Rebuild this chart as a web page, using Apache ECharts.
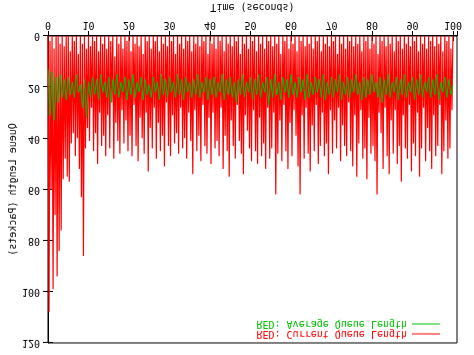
<!DOCTYPE html>
<html>
<head>
<meta charset="utf-8">
<script src="https://cdn.jsdelivr.net/npm/echarts@6/dist/echarts.min.js"></script>
<style>
  html, body { margin: 0; padding: 0; background: #fff; }
  #chart { width: 474px; height: 355px; transform: scaleY(-1); }
</style>
</head>
<body>
<div id="chart"></div>
<script>
// time step of each series (seconds)
const redStep = 0.25
const greenStep = 0.5

const xTicks = [0, 10, 20, 30, 40, 50, 60, 70, 80, 90, 100]
const yTicks = [0, 20, 40, 60, 80, 100, 120]

// RED: Current Queue Length (packets), one value every 0.25 s
const currentQueue = [
  0, 108, 2, 60, 0, 99, 5, 70, 0, 94, 0, 84, 3, 76, 0, 56, 4, 48, 0, 55,
  0, 57, 6, 42, 0, 38, 2, 47, 0, 40, 7, 52, 0, 63, 3, 86, 0, 44, 5, 36,
  0, 41, 4, 28, 0, 45, 2, 38, 0, 50, 6, 30, 0, 43, 3, 39, 0, 47, 5, 31,
  0, 44, 2, 26, 0, 48, 8, 34, 0, 41, 3, 46, 0, 29, 5, 42, 0, 33, 2, 45,
  0, 39, 6, 47, 0, 27, 3, 43, 0, 49, 4, 32, 0, 40, 7, 46, 0, 30, 2, 53,
  0, 36, 5, 44, 0, 28, 2, 48, 0, 34, 6, 45, 0, 39, 3, 51, 0, 26, 4, 43,
  0, 47, 2, 31, 0, 42, 7, 38, 0, 46, 3, 28, 0, 44, 5, 40, 0, 48, 2, 30,
  0, 41, 6, 54, 0, 29, 3, 45, 0, 39, 4, 49, 0, 27, 2, 43, 0, 46, 7, 32,
  0, 50, 3, 30, 0, 44, 5, 41, 0, 47, 2, 28, 0, 52, 6, 39, 0, 45, 3, 55,
  0, 33, 4, 43, 0, 48, 2, 27, 0, 41, 7, 46, 0, 54, 3, 31, 0, 37, 5, 44,
  0, 49, 2, 29, 0, 45, 6, 50, 0, 32, 3, 47, 0, 42, 5, 52, 0, 28, 2, 48,
  0, 44, 4, 30, 0, 62, 3, 46, 0, 33, 7, 49, 0, 27, 2, 45, 0, 52, 5, 34,
  0, 47, 3, 29, 0, 39, 6, 51, 0, 62, 2, 31, 0, 48, 4, 28, 0, 46, 3, 53,
  0, 35, 5, 45, 0, 27, 2, 50, 0, 43, 6, 30, 0, 47, 3, 42, 0, 54, 4, 29,
  0, 46, 2, 33, 0, 44, 7, 28, 0, 49, 3, 35, 0, 43, 5, 47, 0, 26, 2, 45,
  0, 51, 4, 31, 0, 55, 3, 42, 0, 29, 6, 48, 0, 44, 2, 56, 0, 32, 5, 46,
  0, 43, 3, 49, 0, 62, 7, 30, 0, 38, 2, 52, 0, 28, 4, 47, 0, 54, 3, 33,
  0, 46, 6, 29, 0, 50, 2, 43, 0, 57, 5, 31, 0, 44, 3, 48, 0, 27, 4, 53,
  0, 42, 2, 47, 0, 30, 6, 55, 0, 44, 3, 28, 0, 49, 5, 36, 0, 45, 2, 52,
  0, 31, 4, 47, 0, 43, 3, 27, 0, 54, 6, 45, 0, 33, 2, 48, 0, 44, 5, 29,
  0
]

// RED: Average Queue Length (packets), one value every 0.5 s
const averageQueue = [
  13, 31, 14, 33, 16, 26, 15, 24, 17, 25, 16, 23, 18, 24, 15, 22, 19, 28, 17, 32,
  18, 24, 16, 23, 17, 25, 15, 22, 18, 24, 16, 26, 17, 23, 15, 24, 18, 22, 16, 25,
  17, 23, 15, 24, 18, 22, 16, 25, 17, 23, 19, 24, 16, 22, 18, 25, 15, 23, 17, 24,
  16, 22, 18, 24, 15, 23, 17, 25, 16, 22, 18, 24, 17, 23, 15, 24, 18, 22, 16, 25,
  17, 23, 16, 24, 18, 22, 15, 25, 17, 23, 16, 24, 18, 26, 17, 23, 15, 24, 18, 22,
  16, 25, 17, 23, 15, 24, 18, 22, 16, 27, 17, 24, 15, 23, 18, 25, 16, 22, 17, 24,
  15, 23, 18, 24, 16, 22, 17, 25, 15, 24, 18, 23, 16, 22, 17, 24, 15, 25, 18, 23,
  16, 24, 17, 22, 15, 25, 18, 23, 16, 24, 17, 22, 15, 23, 18, 25, 16, 24, 17, 23,
  15, 22, 18, 24, 16, 26, 17, 23, 15, 24, 18, 22, 16, 25, 17, 23, 15, 24, 18, 22,
  16, 25, 17, 23, 15, 24, 18, 22, 16, 24, 17, 23, 15, 25, 18, 22, 16, 24, 17, 23,
  19
]

const currentPoints = currentQueue.map((v, i) => [i * redStep, v])
const averagePoints = averageQueue.map((v, i) => [i * greenStep, v])

const font = 'DejaVu Sans Mono'
const mirrorAxis = {
  min: 0,
  axisLine: { show: false },
  axisTick: { inside: true, length: 5, lineStyle: { color: '#000' } },
  axisLabel: { show: false },
  splitLine: { show: false }
}

const chart = echarts.init(document.getElementById('chart'))
chart.setOption({
  animation: false,
  backgroundColor: '#fff',
  textStyle: { fontFamily: font, fontSize: 10, color: '#000' },
  grid: {
    left: 48, right: 17, top: 12, bottom: 36,
    outerBoundsMode: 'none',
    show: true, borderColor: '#000', borderWidth: 1
  },
  legend: {
    orient: 'vertical',
    right: 29, top: 11,
    align: 'right',
    itemGap: 0,
    itemWidth: 28, itemHeight: 1,
    icon: 'rect',
    textStyle: { fontFamily: font, fontSize: 10, lineHeight: 10, padding: [0, 0, 0, 0] },
    data: [
      { name: 'RED: Current Queue Length', textStyle: { color: '#ff0000' } },
      { name: 'RED: Average Queue Length', textStyle: { color: '#00c000' } }
    ]
  },
  xAxis: [{
    type: 'value',
    min: xTicks[0], max: 101, interval: 10,
    name: 'Time (seconds)',
    nameLocation: 'middle', nameGap: 24,
    nameTextStyle: { fontFamily: font, fontSize: 10, color: '#000' },
    axisLine: { lineStyle: { color: '#000' } },
    axisTick: { inside: true, length: 5, lineStyle: { color: '#000' } },
    axisLabel: { margin: 6, color: '#000', fontFamily: font, fontSize: 10, showMaxLabel: false },
    splitLine: { show: false }
  }, Object.assign({ type: 'value', position: 'top', max: 101, interval: 10 }, mirrorAxis)],
  yAxis: [{
    type: 'value',
    min: yTicks[0], max: yTicks[yTicks.length - 1], interval: 20,
    name: 'Queue Length (Packets)',
    nameLocation: 'middle', nameGap: 30,
    nameMoveOverlap: false,
    nameTextStyle: { fontFamily: font, fontSize: 10, color: '#000' },
    axisLine: { lineStyle: { color: '#000' } },
    axisTick: { inside: true, length: 5, lineStyle: { color: '#000' } },
    axisLabel: { margin: 8, color: '#000', fontFamily: font, fontSize: 10 },
    splitLine: { show: false }
  }, Object.assign({ type: 'value', position: 'right', max: 120, interval: 20 }, mirrorAxis)],
  series: [
    {
      name: 'RED: Current Queue Length',
      type: 'line',
      data: currentPoints,
      symbol: 'none',
      color: '#ff0000',
      lineStyle: { width: 1.2, color: '#ff0000' }
    },
    {
      name: 'RED: Average Queue Length',
      type: 'line',
      data: averagePoints,
      symbol: 'none',
      color: '#00c000',
      lineStyle: { width: 1, color: '#00c000' }
    }
  ]
})
</script>
</body>
</html>
